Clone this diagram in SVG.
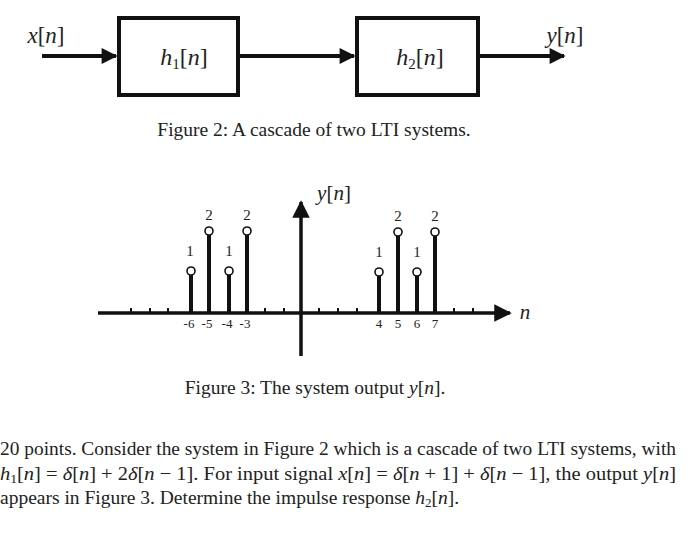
<svg xmlns="http://www.w3.org/2000/svg" width="699" height="536" viewBox="0 0 699 536">
<style>
text{font-family:"Liberation Serif","DejaVu Serif",serif;fill:#222}
.m{font-style:italic}
.box{fill:#fff;stroke:#111;stroke-width:4}
.ln{stroke:#111;stroke-width:4;fill:none}
.st{stroke:#111;stroke-width:4}
.c{fill:#fff;stroke:#111;stroke-width:1.6}
.tk{stroke:#111;stroke-width:2}
.sm{font-size:13px}
</style>
<defs>
<marker id="ah" viewBox="0 0 10 10" refX="9" refY="5" markerWidth="5" markerHeight="4" orient="auto" markerUnits="strokeWidth"><path d="M0,0L10,5L0,10z" fill="#111"/></marker>
<marker id="ah2" viewBox="0 0 10 10" refX="9" refY="5" markerWidth="7" markerHeight="5" orient="auto" markerUnits="strokeWidth"><path d="M0,0L10,5L0,10z" fill="#111"/></marker>
</defs>
<g id="connectors">
<line class="ln" x1="42" y1="56" x2="116" y2="56" marker-end="url(#ah)"/>
<line class="ln" x1="240" y1="56" x2="354" y2="56" marker-end="url(#ah)"/>
<line class="ln" x1="480" y1="56" x2="564" y2="56" marker-end="url(#ah)"/>
</g>
<g id="h1"><rect class="box" x="119" y="18" width="119" height="77"/><text x="184" y="65" font-size="24" text-anchor="middle"><tspan class="m">h</tspan><tspan font-size="15" dy="4">1</tspan><tspan dy="-4">[</tspan><tspan class="m">n</tspan>]</text></g>
<g id="h2"><rect class="box" x="357" y="18" width="121" height="77"/><text x="420" y="65" font-size="24" text-anchor="middle"><tspan class="m">h</tspan><tspan font-size="15" dy="4">2</tspan><tspan dy="-4">[</tspan><tspan class="m">n</tspan>]</text></g>
<text x="46" y="43" font-size="23" text-anchor="middle"><tspan class="m">x</tspan>[<tspan class="m">n</tspan>]</text>
<text x="565" y="43" font-size="23" text-anchor="middle"><tspan class="m">y</tspan>[<tspan class="m">n</tspan>]</text>
<text x="314" y="136" font-size="19.5" text-anchor="middle">Figure 2: A cascade of two LTI systems.</text>

<g id="plot">
<line x1="98" y1="313" x2="510" y2="313" stroke="#111" stroke-width="3.5" marker-end="url(#ah2)"/>
<line x1="301" y1="356" x2="301" y2="202" stroke="#111" stroke-width="3.5" marker-end="url(#ah2)"/>
<g class="tk">
<line x1="131" y1="308" x2="131" y2="313"/><line x1="150" y1="308" x2="150" y2="313"/><line x1="168" y1="308" x2="168" y2="313"/>
<line x1="265" y1="308" x2="265" y2="313"/><line x1="284" y1="308" x2="284" y2="313"/>
<line x1="319" y1="308" x2="319" y2="313"/><line x1="338" y1="308" x2="338" y2="313"/><line x1="357" y1="308" x2="357" y2="313"/>
<line x1="454" y1="308" x2="454" y2="313"/><line x1="473" y1="308" x2="473" y2="313"/>
</g>
<g class="st">
<line x1="191" y1="313" x2="191" y2="275"/><line x1="209" y1="313" x2="209" y2="235"/><line x1="229" y1="313" x2="229" y2="275"/><line x1="247" y1="313" x2="247" y2="235"/>
<line x1="379" y1="313" x2="379" y2="275"/><line x1="398" y1="313" x2="398" y2="235"/><line x1="417" y1="313" x2="417" y2="275"/><line x1="435" y1="313" x2="435" y2="235"/>
</g>
<g>
<circle class="c" cx="191" cy="271" r="4"/><circle class="c" cx="209" cy="231" r="4"/><circle class="c" cx="229" cy="271" r="4"/><circle class="c" cx="247" cy="231" r="4"/>
<circle class="c" cx="379" cy="272" r="4"/><circle class="c" cx="398" cy="232" r="4"/><circle class="c" cx="417" cy="272" r="4"/><circle class="c" cx="435" cy="232" r="4"/>
</g>
<g font-size="15" text-anchor="middle">
<text x="190" y="256">1</text><text x="209" y="220">2</text><text x="229" y="256">1</text><text x="247" y="220">2</text>
<text x="379" y="257">1</text><text x="398" y="221">2</text><text x="417" y="257">1</text><text x="435" y="221">2</text>
</g>
<g class="sm" text-anchor="middle" fill="#444">
<text x="189" y="328">-6</text><text x="207" y="328">-5</text><text x="227" y="328">-4</text><text x="245" y="328">-3</text>
<text x="379" y="328">4</text><text x="398" y="328">5</text><text x="417" y="328">6</text><text x="435" y="328">7</text>
</g>
<text x="334" y="200" font-size="21" text-anchor="middle"><tspan class="m">y</tspan>[<tspan class="m">n</tspan>]</text>
<text x="525" y="319" font-size="21" class="m" text-anchor="middle">n</text>
</g>
<text x="315" y="394" font-size="19.5" text-anchor="middle">Figure 3: The system output <tspan class="m">y</tspan>[<tspan class="m">n</tspan>].</text>

<g font-size="19.5">
<text x="0" y="455" textLength="676" lengthAdjust="spacingAndGlyphs">20 points. Consider the system in Figure 2 which is a cascade of two LTI systems, with</text>
<text x="0" y="480" textLength="676" lengthAdjust="spacingAndGlyphs"><tspan class="m">h</tspan><tspan font-size="13" dy="3">1</tspan><tspan dy="-3">[</tspan><tspan class="m">n</tspan>] = <tspan class="m">δ</tspan>[<tspan class="m">n</tspan>] + 2<tspan class="m">δ</tspan>[<tspan class="m">n</tspan> − 1]. For input signal <tspan class="m">x</tspan>[<tspan class="m">n</tspan>] = <tspan class="m">δ</tspan>[<tspan class="m">n</tspan> + 1] + <tspan class="m">δ</tspan>[<tspan class="m">n</tspan> − 1], the output <tspan class="m">y</tspan>[<tspan class="m">n</tspan>]</text>
<text x="0" y="504">appears in Figure 3. Determine the impulse response <tspan class="m">h</tspan><tspan font-size="13" dy="3">2</tspan><tspan dy="-3">[</tspan><tspan class="m">n</tspan>].</text>
</g>
</svg>
